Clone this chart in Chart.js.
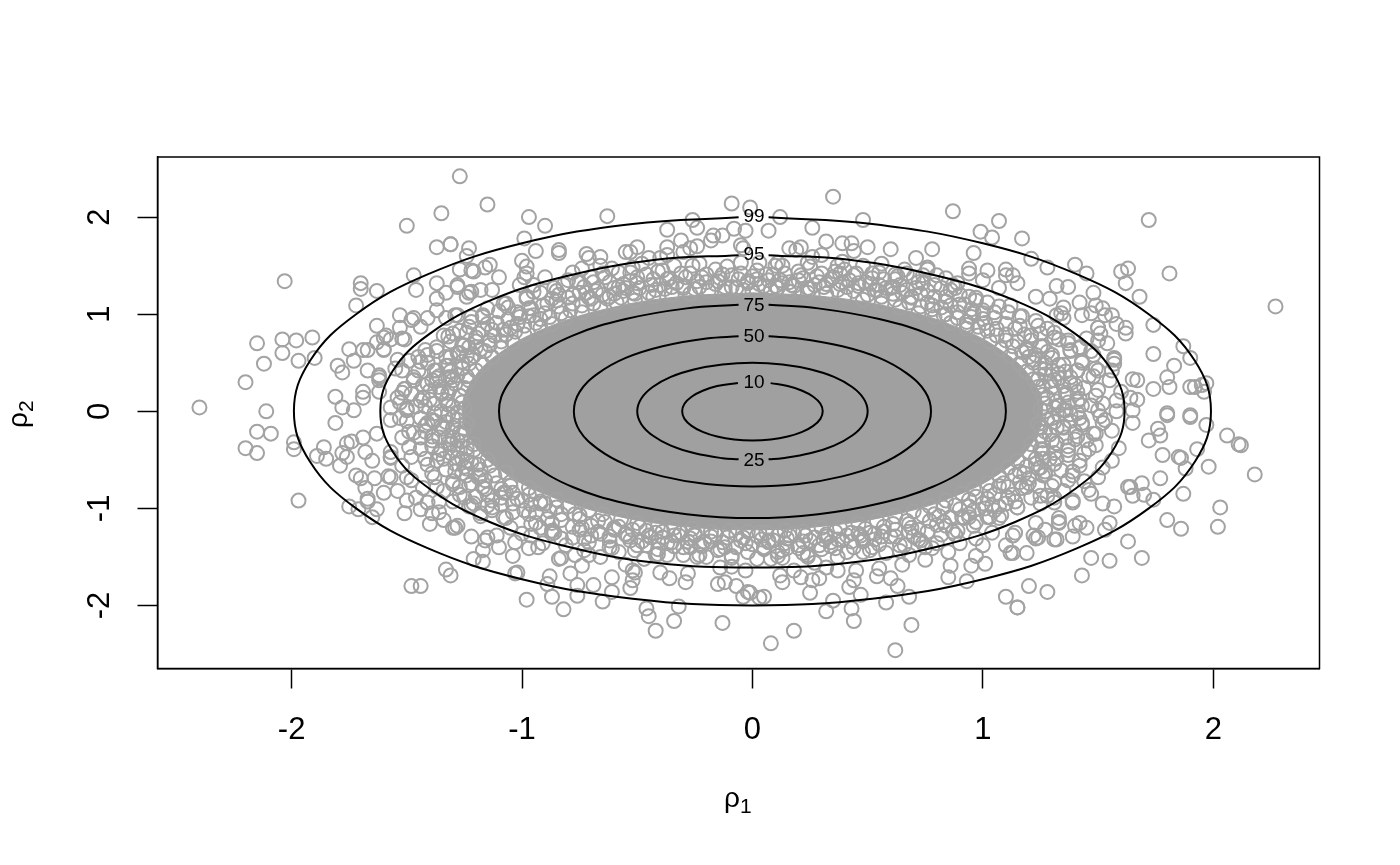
<!DOCTYPE html>
<html>
<head>
<meta charset="utf-8">
<script src="https://cdn.jsdelivr.net/npm/chart.js@4"></script>
<style>
body { margin: 0; background: #fff; }
canvas { display: block; }
</style>
</head>
<body>
<canvas id="myChart" width="1400" height="865"></canvas>
<script>
const xTicks = [-2, -1, 0, 1, 2];
const yTicks = [-2, -1, 0, 1, 2];

// contours, each one starts and stops at its label gap
const contour99X = [.07,.52,1.00,1.41,1.72,1.92,1.99,1.92,1.72,1.41,1.00,.52,0,-.52,-1.00,-1.41,-1.72,-1.92,-1.99,-1.92,-1.72,-1.41,-1.00,-.52,-.06];
const contour99Y = [1.998,1.93,1.73,1.41,1.00,.52,0,-.52,-1.00,-1.41,-1.73,-1.93,-2.00,-1.93,-1.73,-1.41,-1.00,-.52,0,.52,1.00,1.41,1.73,1.93,1.998];
const contour95X = [.07,.42,.81,1.14,1.40,1.56,1.615,1.56,1.40,1.14,.81,.42,0,-.42,-.81,-1.14,-1.40,-1.56,-1.615,-1.56,-1.40,-1.14,-.81,-.42,-.06];
const contour95Y = [1.608,1.56,1.39,1.14,.80,.42,0,-.42,-.80,-1.14,-1.39,-1.56,-1.61,-1.56,-1.39,-1.14,-.80,-.42,0,.42,.80,1.14,1.39,1.56,1.608];
const contour75X = [.07,.285,.55,.78,.95,1.06,1.10,1.06,.95,.78,.55,.285,0,-.285,-.55,-.78,-.95,-1.06,-1.10,-1.06,-.95,-.78,-.55,-.285,-.06];
const contour75Y = [1.097,1.06,.95,.78,.55,.285,0,-.285,-.55,-.78,-.95,-1.06,-1.10,-1.06,-.95,-.78,-.55,-.285,0,.285,.55,.78,.95,1.06,1.097];
const contour50X = [.07,.20,.39,.55,.67,.75,.775,.75,.67,.55,.39,.20,0,-.20,-.39,-.55,-.67,-.75,-.775,-.75,-.67,-.55,-.39,-.20,-.06];
const contour50Y = [.772,.75,.67,.55,.39,.20,0,-.20,-.39,-.55,-.67,-.75,-.775,-.75,-.67,-.55,-.39,-.20,0,.20,.39,.55,.67,.75,.772];
const contour25X = [.07,.13,.25,.354,.433,.483,.50,.483,.433,.354,.25,.13,0,-.13,-.25,-.354,-.433,-.483,-.50,-.483,-.433,-.354,-.25,-.13,-.06];
const contour25Y = [-.495,-.483,-.433,-.354,-.25,-.13,0,.13,.25,.354,.433,.483,.50,.483,.433,.354,.25,.13,0,-.13,-.25,-.354,-.433,-.483,-.495];
const contour10X = [.079,.153,.216,.264,.295,.305,.295,.264,.216,.153,.079,0,-.079,-.153,-.216,-.264,-.295,-.305,-.295,-.264,-.216,-.153,-.063];
const contour10Y = [.29,.26,.212,.15,.078,0,-.078,-.15,-.212,-.26,-.29,-.30,-.29,-.26,-.212,-.15,-.078,0,.078,.15,.212,.26,.292];

const contourNames = ["99", "95", "75", "50", "25", "10"];
const labelX = [.007, .007, .007, .007, .007, .007];
const labelY = [2.0, 1.61, 1.09, .77, -.505, .29];

// the points overlap into a solid mass in the middle, this is its outline
const coreX = [0,.326,.63,.891,1.091,1.217,1.26,1.217,1.091,.891,.63,.326,0,-.326,-.63,-.891,-1.091,-1.217,-1.26,-1.217,-1.091,-.891,-.63,-.326,0];
const coreY = [1.22,1.178,1.057,.863,.61,.316,0,-.316,-.61,-.863,-1.057,-1.178,-1.22,-1.178,-1.057,-.863,-.61,-.316,0,.316,.61,.863,1.057,1.178,1.22];

const upperLeft = [[-1.27,2.42],[-1.35,2.04],[-1.50,1.91],[-1.37,1.69],[-1.31,1.72],[-2.03,1.34],[-1.70,1.32],[-1.70,1.26],[-1.63,1.24],[-1.47,1.40],[-1.46,1.25],[-1.72,1.09],[-1.37,1.32],[-1.28,1.30],[-1.33,1.22],[-1.37,1.16],[-1.37,1.04],[-1.53,.99],[-1.48,.94],[-1.47,.96],[-1.41,.96],[-1.44,.87],[-1.33,.96],[-1.29,.99],[-1.63,.88],[-1.53,.86],[-2.15,.70],[-2.04,.74],[-1.98,.73],[-1.91,.76],[-2.04,.60],[-1.97,.52],[-1.90,.55],[-2.12,.49],[-2.20,.30],[-2.40,.04],[-2.11,0],[-1.80,.47],[-1.78,.40],[-1.75,.64],[-1.73,.52],[-1.67,.63],[-1.69,.63],[-1.63,.71],[-1.59,.78],[-1.60,.64],[-1.57,.74],[-1.51,.74],[-1.67,.42],[-1.62,.37],[-1.62,.32],[-1.47,.32],[-1.81,.15],[-1.69,.20],[-1.69,.14],[-1.78,.04],[-1.73,.01],[-1.62,.20],[-1.54,.53],[-1.52,.42],[-1.45,.56],[-1.41,.58],[-1.54,.14],[-1.51,.23],[-1.50,.03],[-1.57,.04]];
const lowerLeft = [[-2.15,-.21],[-2.09,-.23],[-2.20,-.38],[-2.15,-.43],[-1.99,-.32],[-1.99,-.39],[-1.97,-.92],[-1.86,-.37],[-1.89,-.46],[-1.85,-.49],[-1.81,-.12],[-1.79,-.56],[-1.78,-.43],[-1.76,-.33],[-1.74,-.31],[-1.76,-.47],[-1.72,-.66],[-1.70,-.69],[-1.68,-.79],[-1.64,-.69],[-1.65,-.51],[-1.68,-.42],[-1.69,-.27],[-1.58,-.67],[-1.60,-.84],[-1.67,-.90],[-1.67,-.93],[-1.75,-.98],[-1.71,-1.01],[-1.63,-1.01],[-1.65,-1.09],[-1.54,-.82],[-1.51,-1.05],[-1.44,-1.01],[-1.50,-.92],[-1.41,-.94],[-1.36,-1.04],[-1.40,-1.16],[-1.34,-1.12],[-1.30,-1.20],[-1.28,-1.18],[-1.33,-1.63],[-1.31,-1.69],[-1.48,-1.80],[-1.44,-1.80],[-1.57,-.48],[-1.57,-.42],[-1.50,-.68]];
const upperRight = [[1.17,1.78],[1.21,1.57],[1.28,1.48],[1.40,1.51],[1.45,1.42],[1.60,1.44],[1.63,1.47],[1.62,1.32],[1.68,1.18],[1.72,1.97],[1.81,1.42],[2.27,1.08],[1.74,.89],[1.74,.59],[1.87,.67],[1.90,.55],[1.83,.47],[1.80,.35],[1.74,.23],[1.81,.25],[1.65,.33],[1.67,.32],[1.64,.14],[1.67,.12],[1.65,.01],[1.80,-.02],[1.90,.25],[1.92,.25],[1.95,.27],[1.97,.29],[1.96,.20],[1.90,-.04],[1.32,1.29],[1.37,1.28],[1.48,1.22],[1.42,1.12],[1.43,.99],[1.49,1.09],[1.47,1.01],[1.52,1.06],[1.53,.99],[1.56,.99],[1.58,.90],[1.62,.86],[1.62,.80],[1.50,.86],[1.51,.80],[1.54,.70],[1.50,.73],[1.42,.65],[1.48,.58],[1.37,.70],[1.57,.49],[1.57,.55],[1.49,.44],[1.41,.42],[1.23,1.18],[1.29,1.16],[1.35,1.07],[1.34,1.01],[1.31,.81],[1.35,.96]];
const lowerRight = [[1.80,-.04],[1.90,-.06],[1.97,-.14],[2.06,-.25],[2.11,-.34],[2.12,-.35],[2.18,-.65],[2.03,-.99],[2.02,-1.19],[1.98,-.57],[1.93,-.39],[1.76,-.18],[1.77,-.25],[1.72,-.30],[1.78,-.45],[1.85,-.47],[1.86,-.48],[1.88,-.59],[1.77,-.69],[1.87,-.85],[1.80,-1.12],[1.86,-1.21],[1.63,-.78],[1.69,-.74],[1.65,-.87],[1.70,-.86],[1.74,-.91],[1.52,-.95],[1.57,-.98],[1.55,-1.15],[1.53,-1.22],[1.63,-1.34],[1.69,-1.51],[1.55,-1.54],[1.47,-1.51],[1.43,-1.69],[1.20,-1.80],[1.28,-1.86],[1.15,-2.02],[1.39,-.94],[1.47,-.85],[1.33,-1.10],[1.33,-1.15],[1.42,-1.15],[1.40,-1.18],[1.45,-1.20],[1.39,-1.29],[1.32,-1.32],[1.27,-1.22],[1.22,-1.28],[1.23,-1.31],[1.19,-1.46],[1.13,-1.46],[1.13,-1.28]];
const upperMiddle = [[-1.15,2.13],[-.97,2.00],[-.90,1.91],[-.99,1.78],[-.94,1.65],[-1.23,1.68],[-1.24,1.60],[-1.31,1.72],[-1.27,1.46],[-1.22,1.45],[-1.21,1.44],[-1.16,1.48],[-1.14,1.51],[-1.00,1.55],[-.98,1.49],[-.98,1.42],[-.99,1.38],[-1.01,1.30],[-1.10,1.38],[-.84,1.66],[-.84,1.63],[-.63,2.01],[-.37,1.87],[-.26,1.97],[-.24,1.89],[-.09,2.14],[-.01,2.10],[-.03,1.86],[-.08,1.88],[-.13,1.81],[-.18,1.76],[-.17,1.81],[-.31,1.76],[-.24,1.70],[-.27,1.68],[-.37,1.69],[-.37,1.61],[-.30,1.64],[-.50,1.69],[-.55,1.64],[-.53,1.64],[-.05,1.71],[-.04,1.68],[-.72,1.62],[-.71,1.58],[-.66,1.59],[-.74,1.47],[-.61,1.47],[-.45,1.58],[-.40,1.58],[-1.18,1.25],[-1.28,1.28],[-1.24,1.18],[-1.13,1.25],[-1.22,1.23],[-.95,1.23],[-.98,1.16],[-.84,1.20],[-.89,1.11],[-1.07,1.11],[-1.15,1.06],[-1.22,.97],[-1.28,.99],[-.95,.99],[-1.02,1.02],[-.76,1.33],[-.69,1.33],[-.65,1.42],[-.58,1.28],[-.62,1.18],[-.78,1.20],[-.52,1.48],[.35,2.21],[.12,2.00],[.07,1.86],[.26,1.89],[.48,1.97],[.32,1.75],[.39,1.73],[.43,1.73],[.50,1.69],[.44,1.65],[.60,1.67],[.71,1.58],[.78,1.67],[.87,2.06],[.99,1.85],[1.07,1.96],[1.04,1.79],[.96,1.63],[.16,1.68],[.21,1.69],[.19,1.66],[.56,1.52],[.76,1.48],[.76,1.46],[.62,1.41],[.67,1.42],[.84,1.37],[.89,1.32],[.94,1.47],[1.02,1.45],[1.10,1.46],[1.10,1.40],[1.13,1.40],[1.15,1.32],[1.07,1.27],[1.00,1.35],[.94,1.42],[.94,1.18],[1.02,1.12],[1.00,1.04],[1.12,1.09],[.11,1.53],[.38,1.42],[.45,1.42],[.52,1.37],[.60,1.27],[.65,1.22],[.79,1.30],[.71,1.27],[.78,1.09],[.83,.99],[.87,1.30],[.93,.89],[.13,1.32],[.26,1.59],[.30,1.61],[.39,1.54]];
const lowerMiddle = [[-.98,-1.94],[-.82,-2.04],[-.87,-1.91],[-.76,-1.90],[-.89,-1.78],[-.88,-1.70],[-.79,-1.67],[-.76,-1.79],[-.69,-1.79],[-.65,-1.96],[-.61,-1.71],[-.61,-1.86],[-.53,-1.82],[-.52,-1.74],[-.51,-1.66],[-.52,-1.64],[-.55,-1.58],[-.46,-2.03],[-.45,-2.11],[-.42,-2.26],[-.34,-2.16],[-.32,-2.01],[-.13,-2.18],[-.29,-1.76],[-.28,-1.67],[-.36,-1.72],[-.40,-1.66],[-.12,-1.76],[-.15,-1.78],[-.07,-1.80],[-.02,-1.86],[-.04,-1.91],[.03,-1.92],[-.14,-1.61],[-.03,-1.64],[-.09,-1.60],[-1.03,-1.67],[-1.02,-1.66],[-1.21,-1.52],[-1.17,-1.55],[-1.04,-1.49],[-1.10,-1.40],[-1.16,-1.33],[-1.15,-1.30],[-1.22,-1.29],[-1.29,-1.20],[-1.18,-1.08],[-1.22,-.97],[-.97,-1.41],[-.93,-1.40],[-.84,-1.52],[-.83,-1.51],[-.74,-1.59],[-.77,-1.48],[-.71,-1.48],[-.61,-1.41],[-.42,-1.48],[-.37,-1.48],[-.30,-1.48],[-.23,-1.48],[-1.17,-1.43],[-1.03,-1.35],[-1.00,-1.26],[-.94,-1.15],[-.87,-1.23],[-1.07,-1.10],[-1.13,-.99],[.08,-2.39],[.18,-2.26],[.62,-2.46],[.69,-2.20],[.44,-2.16],[.32,-2.06],[.43,-2.03],[.35,-1.95],[.58,-1.97],[.68,-1.91],[.05,-1.91],[.47,-1.89],[-.01,-1.87],[.25,-1.87],[.42,-1.81],[.44,-1.74],[.45,-1.64],[.63,-1.80],[.60,-1.72],[.54,-1.70],[.55,-1.62],[.65,-1.58],[.85,-1.71],[.86,-1.59],[.93,-1.75],[.95,-1.59],[1.01,-1.57],[.97,-1.49],[.75,-1.53],[.85,-1.45],[1.10,-1.91],[1.15,-2.02],[1.10,-1.38],[1.12,-1.46],[1.00,-1.38],[1.14,-1.25],[1.24,-1.30],[1.31,-1.32],[1.04,-1.25],[.97,-1.31],[.13,-1.76],[.12,-1.69],[.21,-1.71],[.26,-1.74],[.29,-1.72],[.18,-1.64],[.37,-1.64],[.32,-1.61],[.27,-1.56],[.13,-1.51],[.08,-1.52],[.48,-1.45],[.68,-1.48],[.75,-1.40],[.78,-1.41],[.52,-1.40],[.02,-1.52],[1.02,-1.09],[.94,-1.09],[1.07,-1.10],[1.23,-1.15],[.89,-1.23],[1.33,-1.14]];

// the crowded band just outside the solid middle
const bandLeft = [[-1.60,.76],[-1.52,.75],[-1.60,.63],[-1.34,.78],[-1.30,.80],[-1.33,.56],[-1.23,.66],[-1.38,.42],[-1.47,.32],[-1.52,.19],[-1.50,.01],[-1.57,-.09],[-1.62,.35],[-1.44,.11],[-1.44,-.27],[-1.52,-.27],[-1.63,-.23],[-1.57,-.47],[-1.57,-.68],[-1.48,-.47],[-1.48,-.71],[-1.46,-.89],[-1.37,-.78],[-1.39,-1.05],[-1.21,-.95],[-1.13,-1.02],[-1.18,-1.05],[-1.27,-.78],[-1.37,-.51],[-1.30,-.27],[-1.39,-.09],[-1.39,.32],[-1.31,.35],[-1.17,.84],[-1.08,1.11],[-1.01,.97],[-1.23,1.22],[-1.22,.92],[-1.27,.83],[-1.20,.76],[-1.31,.72],[-1.25,.68],[-1.37,.66],[-1.28,.60],[-1.22,.55],[-1.41,.50],[-1.33,.47],[-1.26,.44],[-1.45,.42],[-1.36,.36],[-1.29,.28],[-1.43,.27],[-1.35,.20],[-1.27,.16],[-1.48,.18],[-1.40,.12],[-1.32,.07],[-1.25,.03],[-1.46,.05],[-1.38,-.02],[-1.30,-.06],[-1.24,-.12],[-1.50,-.10],[-1.42,-.15],[-1.34,-.18],[-1.27,-.22],[-1.47,-.22],[-1.39,-.30],[-1.31,-.34],[-1.24,-.38],[-1.44,-.39],[-1.36,-.44],[-1.28,-.48],[-1.22,-.53],[-1.41,-.55],[-1.33,-.60],[-1.26,-.64],[-1.19,-.68],[-1.38,-.68],[-1.30,-.72],[-1.23,-.76],[-1.34,-.82],[-1.27,-.86],[-1.20,-.88],[-1.13,-.92],[-1.30,-.93],[-1.23,-.98],[-1.17,.99],[-1.10,1.03],[-1.24,.81],[-1.15,.90],[-1.18,.64],[-1.24,.36],[-1.26,-.31],[-1.25,-.57],[-1.16,-.80],[-1.09,-.96],[-1.04,-1.04],[-1.42,.63],[-1.49,.52],[-1.55,.44],[-1.52,-.56],[-1.43,-.79],[-1.36,-.93]];
const bandRight = [[1.32,.99],[1.37,.73],[1.42,.66],[1.50,.86],[1.57,.53],[1.50,.42],[1.41,.42],[1.55,.32],[1.58,.11],[1.50,.01],[1.41,-.02],[1.52,-.12],[1.45,-.30],[1.59,-.38],[1.56,-.51],[1.44,-.43],[1.37,-.71],[1.50,-.68],[1.46,-.81],[1.39,-.92],[1.31,-.89],[1.25,-.95],[1.03,-1.09],[1.15,-.99],[1.38,.29],[1.31,.32],[1.35,.01],[1.65,-.12],[1.64,-.78],[1.23,.93],[1.28,.85],[1.21,.78],[1.33,.74],[1.26,.67],[1.38,.62],[1.30,.58],[1.22,.53],[1.43,.52],[1.35,.48],[1.27,.43],[1.46,.36],[1.33,.39],[1.26,.26],[1.44,.24],[1.36,.19],[1.28,.14],[1.49,.16],[1.41,.10],[1.33,.06],[1.25,.02],[1.47,.06],[1.38,-.03],[1.30,-.07],[1.24,-.13],[1.51,-.05],[1.43,-.14],[1.35,-.17],[1.27,-.21],[1.48,-.23],[1.40,-.29],[1.32,-.33],[1.25,-.39],[1.46,-.39],[1.37,-.45],[1.29,-.49],[1.23,-.54],[1.42,-.56],[1.34,-.61],[1.27,-.65],[1.20,-.69],[1.39,-.66],[1.31,-.73],[1.24,-.77],[1.35,-.82],[1.28,-.87],[1.21,-.89],[1.14,-.93],[1.31,-.94],[1.07,-.98],[1.17,.98],[1.11,1.02],[1.25,.80],[1.16,.88],[1.19,.63],[1.24,.33],[1.26,-.30],[1.25,-.58],[1.17,-.79],[1.10,-.95],[1.45,.75],[1.47,.62],[1.56,.42],[1.52,-.58],[1.44,-.72],[1.60,.20],[1.56,-.20],[1.58,.00]];
const bandTop = [[-.95,1.30],[-.90,1.38],[-.86,1.27],[-.80,1.35],[-.78,1.43],[-.73,1.28],[-.70,1.38],[-.66,1.50],[-.62,1.33],[-.58,1.43],[-.55,1.27],[-.50,1.38],[-.48,1.52],[-.44,1.30],[-.41,1.44],[-.37,1.36],[-.34,1.50],[-.30,1.29],[-.27,1.42],[-.23,1.52],[-.20,1.33],[-.16,1.46],[-.12,1.28],[-.09,1.40],[-.05,1.53],[-.02,1.34],[.02,1.45],[.05,1.29],[.09,1.41],[.13,1.50],[.16,1.33],[.20,1.44],[.24,1.53],[.27,1.30],[.30,1.42],[.34,1.36],[.37,1.50],[.41,1.28],[.44,1.40],[.48,1.50],[.51,1.31],[.55,1.43],[.58,1.27],[.62,1.36],[.66,1.46],[.69,1.18],[.72,1.33],[.76,1.24],[.80,1.40],[.84,1.18],[.88,1.27],[.92,1.10],[.96,1.02],[-.92,1.22],[-.87,1.16],[-.82,1.30],[-.75,1.22],[-.71,1.17],[-.67,1.26],[-.60,1.21],[-.53,1.34],[-.52,1.22],[-.46,1.41],[-.42,1.25],[-.35,1.28],[-.31,1.42],[-.25,1.26],[-.22,1.38],[-.14,1.37],[-.07,1.27],[.00,1.39],[.03,1.53],[.07,1.35],[.11,1.27],[.18,1.29],[.22,1.37],[.25,1.26],[.32,1.31],[.36,1.44],[.39,1.33],[.46,1.32],[.53,1.25],[.57,1.36],[.64,1.30],[.70,1.38],[.74,1.40],[.82,1.27],[.86,1.09],[.90,1.20],[.97,1.14],[1.00,.95],[1.05,1.02],[-.97,1.06],[-1.02,.90],[-1.08,.84],[-.92,.95]];
const bandBottom = [[-.96,-1.28],[-.91,-1.36],[-.86,-1.25],[-.81,-1.38],[-.78,-1.30],[-.73,-1.43],[-.70,-1.28],[-.66,-1.50],[-.62,-1.33],[-.58,-1.45],[-.55,-1.27],[-.50,-1.38],[-.47,-1.52],[-.44,-1.30],[-.41,-1.42],[-.37,-1.36],[-.34,-1.28],[-.30,-1.40],[-.27,-1.31],[-.23,-1.37],[-.20,-1.50],[-.16,-1.27],[-.12,-1.40],[-.09,-1.51],[-.05,-1.33],[-.02,-1.45],[.02,-1.28],[.05,-1.40],[.09,-1.33],[.13,-1.43],[.16,-1.28],[.20,-1.38],[.24,-1.48],[.27,-1.30],[.30,-1.42],[.34,-1.35],[.37,-1.50],[.41,-1.28],[.44,-1.40],[.48,-1.32],[.51,-1.25],[.55,-1.37],[.58,-1.46],[.62,-1.29],[.66,-1.38],[.69,-1.20],[.72,-1.32],[.76,-1.24],[.80,-1.36],[.84,-1.18],[.88,-1.27],[.92,-1.10],[.96,-1.02],[-.92,-1.20],[-.87,-1.15],[-.83,-1.31],[-.75,-1.22],[-.71,-1.35],[-.67,-1.24],[-.60,-1.22],[-.53,-1.33],[-.52,-1.22],[-.46,-1.38],[-.42,-1.25],[-.35,-1.35],[-.31,-1.25],[-.25,-1.26],[-.18,-1.34],[-.14,-1.42],[-.07,-1.27],[.00,-1.37],[.03,-1.25],[.07,-1.33],[.11,-1.45],[.18,-1.26],[.22,-1.46],[.25,-1.33],[.32,-1.27],[.36,-1.41],[.39,-1.33],[.46,-1.26],[.53,-1.32],[.57,-1.24],[.64,-1.44],[.70,-1.29],[.74,-1.36],[.82,-1.27],[.86,-1.09],[.90,-1.36],[.97,-1.14],[1.00,-.95],[1.05,-1.02],[-.97,-1.06],[-1.02,-.90],[-1.08,-.84],[-.92,-.95],[-1.05,-1.20],[-1.11,-1.28]];

// second pass over the same band, quadrant by quadrant
const crowdUpperRight = [[.03,1.31],[.10,1.29],[.17,1.30],[.24,1.27],[.31,1.28],[.37,1.25],[.44,1.24],[.50,1.20],[.56,1.18],[.62,1.15],[.68,1.12],[.73,1.08],[.78,1.05],[.84,1.00],[.89,.96],[.93,.92],[.98,.87],[1.02,.83],[1.06,.78],[1.10,.73],[1.13,.67],[1.17,.61],[1.20,.56],[1.22,.50],[1.25,.44],[1.27,.38],[1.29,.31],[1.30,.25],[1.31,.18],[1.32,.10],[1.31,.04],[.06,1.41],[.14,1.42],[.21,1.40],[.28,1.39],[.35,1.38],[.42,1.35],[.49,1.33],[.55,1.30],[.61,1.28],[.67,1.25],[.73,1.21],[.79,1.18],[.84,1.13],[.90,1.10],[.95,1.05],[1.00,1.01],[1.05,.96],[1.10,.90],[1.14,.85],[1.18,.79],[1.21,.73],[1.25,.67],[1.28,.61],[1.30,.55],[1.33,.48],[1.36,.41],[1.38,.35],[1.40,.27],[1.41,.20],[1.42,.13],[1.43,.06],[.10,1.50],[.25,1.49],[.40,1.46],[.52,1.42],[.63,1.39],[.74,1.32],[.86,1.25],[.97,1.17],[1.07,1.08],[1.16,.98],[1.24,.88],[1.31,.76],[1.38,.63],[1.43,.50],[1.48,.36],[1.50,.22],[1.52,.08]];
const crowdUpperLeft = [[-.02,1.32],[-.09,1.28],[-.16,1.31],[-.23,1.28],[-.30,1.27],[-.38,1.26],[-.45,1.22],[-.51,1.21],[-.57,1.17],[-.63,1.16],[-.69,1.11],[-.74,1.09],[-.79,1.04],[-.83,1.01],[-.88,.97],[-.94,.91],[-.99,.88],[-1.03,.82],[-1.07,.79],[-1.09,.72],[-1.14,.68],[-1.16,.62],[-1.21,.57],[-1.23,.49],[-1.26,.45],[-1.28,.37],[-1.30,.32],[-1.31,.24],[-1.32,.19],[-1.33,.11],[-1.30,.05],[-.05,1.42],[-.13,1.41],[-.20,1.41],[-.29,1.38],[-.36,1.37],[-.43,1.36],[-.50,1.32],[-.56,1.31],[-.60,1.27],[-.68,1.24],[-.72,1.22],[-.80,1.17],[-.85,1.14],[-.91,1.09],[-.96,1.06],[-1.01,1.00],[-1.06,.95],[-1.11,.91],[-1.13,.84],[-1.19,.80],[-1.20,.72],[-1.26,.68],[-1.27,.60],[-1.31,.56],[-1.32,.47],[-1.37,.42],[-1.37,.34],[-1.41,.28],[-1.40,.21],[-1.43,.14],[-1.42,.05],[-.11,1.49],[-.26,1.50],[-.39,1.45],[-.53,1.43],[-.64,1.38],[-.75,1.33],[-.85,1.24],[-.98,1.18],[-1.06,1.07],[-1.17,.97],[-1.23,.87],[-1.32,.77],[-1.37,.62],[-1.44,.51],[-1.47,.35],[-1.51,.23],[-1.53,.09]];
const crowdLowerLeft = [[-.04,-1.30],[-.11,-1.30],[-.18,-1.29],[-.25,-1.28],[-.32,-1.28],[-.39,-1.24],[-.46,-1.23],[-.49,-1.19],[-.58,-1.19],[-.64,-1.14],[-.67,-1.13],[-.75,-1.07],[-.77,-1.06],[-.85,-.99],[-.90,-.95],[-.92,-.93],[-.97,-.86],[-1.04,-.84],[-1.05,-.77],[-1.11,-.74],[-1.12,-.66],[-1.18,-.60],[-1.19,-.55],[-1.24,-.51],[-1.24,-.43],[-1.28,-.39],[-1.28,-.30],[-1.32,-.26],[-1.30,-.17],[-1.33,-.11],[-1.32,-.03],[-.07,-1.40],[-.15,-1.43],[-.22,-1.39],[-.27,-1.40],[-.34,-1.39],[-.41,-1.34],[-.48,-1.34],[-.54,-1.29],[-.62,-1.29],[-.66,-1.26],[-.74,-1.20],[-.78,-1.19],[-.83,-1.12],[-.89,-1.11],[-.94,-1.04],[-.99,-1.02],[-1.04,-.95],[-1.09,-.89],[-1.15,-.86],[-1.17,-.78],[-1.22,-.74],[-1.24,-.66],[-1.29,-.62],[-1.29,-.54],[-1.34,-.49],[-1.35,-.40],[-1.39,-.36],[-1.39,-.26],[-1.42,-.21],[-1.41,-.12],[-1.44,-.07],[-.09,-1.49],[-.24,-1.50],[-.41,-1.47],[-.51,-1.43],[-.62,-1.40],[-.73,-1.31],[-.87,-1.26],[-.96,-1.16],[-1.08,-1.09],[-1.15,-.97],[-1.25,-.89],[-1.30,-.75],[-1.39,-.64],[-1.42,-.49],[-1.49,-.37],[-1.49,-.21],[-1.53,-.07]];
const crowdLowerRight = [[.04,-1.32],[.11,-1.28],[.15,-1.31],[.23,-1.28],[.32,-1.29],[.36,-1.24],[.43,-1.25],[.49,-1.21],[.57,-1.19],[.61,-1.16],[.67,-1.13],[.74,-1.07],[.79,-1.06],[.83,-.99],[.88,-.97],[.94,-.91],[.97,-.88],[1.03,-.82],[1.07,-.77],[1.09,-.74],[1.14,-.66],[1.16,-.62],[1.19,-.57],[1.23,-.49],[1.26,-.43],[1.26,-.39],[1.30,-.30],[1.29,-.24],[1.32,-.17],[1.31,-.11],[1.33,-.04],[.05,-1.42],[.15,-1.41],[.20,-1.41],[.29,-1.38],[.34,-1.39],[.43,-1.34],[.48,-1.34],[.56,-1.29],[.60,-1.29],[.68,-1.24],[.72,-1.22],[.80,-1.17],[.83,-1.14],[.91,-1.09],[.94,-1.06],[1.01,-1.00],[1.04,-.97],[1.11,-.89],[1.13,-.86],[1.19,-.78],[1.20,-.74],[1.26,-.66],[1.27,-.62],[1.31,-.54],[1.32,-.49],[1.37,-.40],[1.37,-.36],[1.41,-.26],[1.40,-.21],[1.43,-.12],[1.42,-.07],[.11,-1.49],[.24,-1.50],[.41,-1.45],[.51,-1.43],[.64,-1.38],[.73,-1.33],[.87,-1.24],[.96,-1.18],[1.08,-1.07],[1.15,-.99],[1.25,-.87],[1.30,-.77],[1.39,-.62],[1.42,-.51],[1.49,-.35],[1.49,-.23],[1.53,-.09]];

// points sitting on the rim of the solid middle, so its edge is not clean
const rimPoints = [[0,1.24],[.08,1.25],[.16,1.23],[.24,1.22],[.32,1.21],[.40,1.19],[.48,1.15],[.56,1.11],[.64,1.07],[.72,1.01],[.79,.97],[.86,.91],[.93,.85],[.98,.78],[1.03,.72],[1.08,.64],[1.12,.57],[1.16,.49],[1.19,.41],[1.22,.33],[1.24,.25],[1.26,.17],[1.27,.08],[1.27,0],[-.04,1.25],[-.12,1.23],[-.19,1.24],[-.27,1.21],[-.35,1.20],[-.43,1.18],[-.51,1.14],[-.59,1.12],[-.66,1.06],[-.74,1.02],[-.81,.96],[-.87,.90],[-.92,.86],[-.99,.79],[-1.04,.71],[-1.09,.65],[-1.13,.56],[-1.17,.48],[-1.20,.42],[-1.23,.32],[-1.25,.24],[-1.27,.16],[-1.26,.09],[-1.28,-.01],[-.02,-1.24],[-.10,-1.23],[-.18,-1.24],[-.26,-1.21],[-.34,-1.20],[-.41,-1.18],[-.50,-1.15],[-.57,-1.11],[-.65,-1.06],[-.71,-1.02],[-.80,-.98],[-.85,-.91],[-.94,-.84],[-.97,-.79],[-1.05,-.73],[-1.07,-.63],[-1.14,-.56],[-1.15,-.50],[-1.21,-.40],[-1.21,-.34],[-1.26,-.24],[-1.25,-.18],[-1.28,-.09],[.06,-1.25],[.14,-1.23],[.22,-1.24],[.30,-1.20],[.38,-1.20],[.46,-1.16],[.54,-1.13],[.62,-1.08],[.70,-1.03],[.77,-.98],[.84,-.92],[.91,-.85],[.96,-.80],[1.02,-.74],[1.07,-.66],[1.11,-.58],[1.15,-.51],[1.20,-.42],[1.21,-.34],[1.25,-.26],[1.25,-.17],[1.28,-.09]];
const midRowPoints = [[.02,1.36],[.12,1.35],[.20,1.35],[.29,1.33],[.38,1.31],[.46,1.29],[.54,1.25],[.61,1.21],[.69,1.17],[.76,1.12],[.82,1.07],[.89,1.02],[.95,.97],[1.01,.91],[1.06,.85],[1.10,.79],[1.15,.72],[1.19,.65],[1.23,.58],[1.27,.50],[1.30,.42],[1.33,.34],[1.35,.26],[1.36,.17],[1.37,.09],[1.36,.01],[-.06,1.36],[-.15,1.34],[-.24,1.34],[-.33,1.32],[-.40,1.30],[-.49,1.27],[-.56,1.24],[-.65,1.20],[-.70,1.16],[-.78,1.11],[-.84,1.08],[-.90,1.01],[-.97,.98],[-1.02,.90],[-1.05,.86],[-1.12,.78],[-1.14,.73],[-1.20,.66],[-1.24,.57],[-1.26,.51],[-1.31,.41],[-1.32,.35],[-1.36,.25],[-1.35,.18],[-1.38,.08],[-1.35,.00],[-.03,-1.36],[-.13,-1.35],[-.21,-1.34],[-.28,-1.34],[-.39,-1.30],[-.45,-1.28],[-.55,-1.26],[-.60,-1.20],[-.70,-1.18],[-.75,-1.11],[-.83,-1.06],[-.88,-1.03],[-.96,-.96],[-1.00,-.92],[-1.07,-.84],[-1.09,-.80],[-1.16,-.71],[-1.18,-.66],[-1.24,-.59],[-1.26,-.49],[-1.31,-.43],[-1.32,-.33],[-1.36,-.27],[-1.35,-.16],[-1.38,-.10],[.07,-1.35],[.14,-1.36],[.22,-1.34],[.31,-1.32],[.37,-1.32],[.47,-1.28],[.53,-1.26],[.62,-1.22],[.68,-1.16],[.77,-1.13],[.81,-1.08],[.90,-1.01],[.94,-.98],[1.02,-.90],[1.05,-.86],[1.11,-.78],[1.16,-.73],[1.18,-.64],[1.24,-.59],[1.26,-.49],[1.31,-.43],[1.32,-.33],[1.36,-.27],[1.35,-.16],[1.38,-.10]];

const allPoints = [...upperLeft, ...lowerLeft, ...upperRight, ...lowerRight, ...upperMiddle, ...lowerMiddle, ...bandLeft, ...bandRight, ...bandTop, ...bandBottom, ...crowdUpperRight, ...crowdUpperLeft, ...crowdLowerLeft, ...crowdLowerRight, ...rimPoints, ...midRowPoints];

function toXY(xs, ys) {
  return xs.map((x, i) => ({ x: x, y: ys[i] }));
}

function contourSet(xs, ys) {
  return {
    data: toXY(xs, ys),
    showLine: true,
    borderColor: "#000",
    borderWidth: 2,
    pointRadius: 0,
    tension: 0.4,
    fill: false,
    order: 1
  };
}

// R style box round the plot, contour numbers and the subscripted axis titles
const boxAndLabels = {
  id: "boxAndLabels",
  afterDatasetsDraw(chart) {
    const ctx = chart.ctx;
    const a = chart.chartArea;
    ctx.save();
    ctx.strokeStyle = "#000";
    ctx.lineWidth = 1.5;
    ctx.strokeRect(a.left, a.top, a.right - a.left, a.bottom - a.top);
    ctx.fillStyle = "#000";
    ctx.font = "19px 'Liberation Sans'";
    ctx.textAlign = "center";
    ctx.textBaseline = "middle";
    contourNames.forEach((name, i) => {
      ctx.fillText(name, chart.scales.x.getPixelForValue(labelX[i]), chart.scales.y.getPixelForValue(labelY[i]));
    });

    ctx.textAlign = "left";
    ctx.textBaseline = "alphabetic";
    ctx.font = "28px 'Liberation Sans'";
    ctx.fillText("ρ", 724, 807);
    ctx.font = "21px 'Liberation Sans'";
    ctx.fillText("1", 740, 813);

    ctx.translate(27, 428);
    ctx.rotate(-Math.PI / 2);
    ctx.font = "28px 'Liberation Sans'";
    ctx.fillText("ρ", 0, 0);
    ctx.font = "21px 'Liberation Sans'";
    ctx.fillText("2", 16, 6);
    ctx.restore();
  }
};

const ctx = document.getElementById("myChart").getContext("2d");

new Chart(ctx, {
  type: "scatter",
  data: {
    datasets: [
      contourSet(contour99X, contour99Y),
      contourSet(contour95X, contour95Y),
      contourSet(contour75X, contour75Y),
      contourSet(contour50X, contour50Y),
      contourSet(contour25X, contour25Y),
      contourSet(contour10X, contour10Y),
      {
        data: allPoints.map(p => ({ x: p[0], y: p[1] })),
        showLine: false,
        pointStyle: "circle",
        pointRadius: 7,
        pointBorderWidth: 2,
        pointBorderColor: "#a3a3a3",
        pointBackgroundColor: "rgba(0,0,0,0)",
        order: 2
      },
      {
        data: toXY(coreX, coreY),
        showLine: true,
        borderColor: "#a0a0a0",
        backgroundColor: "#a0a0a0",
        borderWidth: 1,
        pointRadius: 0,
        tension: 0.4,
        fill: "shape",
        order: 3
      }
    ]
  },
  plugins: [boxAndLabels],
  options: {
    responsive: false,
    animation: false,
    devicePixelRatio: 1,
    layout: { padding: { top: 157, right: 80.5, left: 0, bottom: 0 } },
    plugins: { legend: { display: false }, tooltip: { enabled: false } },
    scales: {
      x: {
        type: "linear",
        min: -2.582,
        max: 2.461,
        afterBuildTicks(axis) { axis.ticks = xTicks.map(v => ({ value: v })); },
        afterFit(axis) { axis.height = 196.5; },
        border: { color: "#000", width: 1.5 },
        grid: { drawOnChartArea: false, tickLength: 20, tickColor: "#000", tickWidth: 1.5 },
        ticks: {
          color: "#000",
          padding: 23,
          maxRotation: 0,
          autoSkip: false,
          font: { family: "'Liberation Sans'", size: 31 },
          callback: v => String(v)
        }
      },
      y: {
        type: "linear",
        min: -2.649,
        max: 2.619,
        afterBuildTicks(axis) { axis.ticks = yTicks.map(v => ({ value: v })); },
        afterFit(axis) { axis.width = 157.5; },
        border: { color: "#000", width: 1.5 },
        grid: { drawOnChartArea: false, tickLength: 20, tickColor: "#000", tickWidth: 1.5 },
        ticks: {
          color: "#000",
          padding: 23,
          minRotation: 90,
          maxRotation: 90,
          crossAlign: "center",
          autoSkip: false,
          font: { family: "'Liberation Sans'", size: 31 },
          callback: v => String(v)
        }
      }
    }
  }
});
</script>
</body>
</html>
